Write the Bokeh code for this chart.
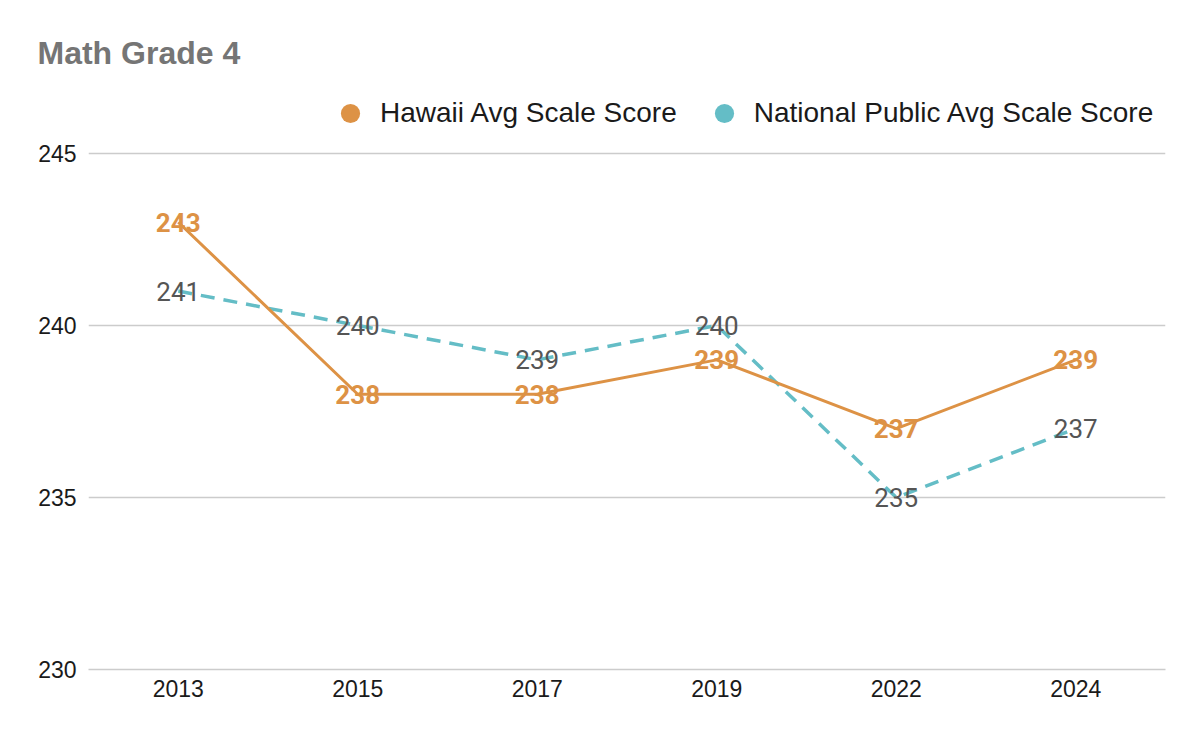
from bokeh.plotting import figure
from bokeh.models import FactorRange, Range1d, FixedTicker, Legend, LegendItem, ColumnDataSource
from bokeh.core.properties import value
from bokeh.embed import file_html
from bokeh.resources import INLINE

years = ["2013", "2015", "2017", "2019", "2022", "2024"]
hawaii = [243, 238, 238, 239, 237, 239]
national = [241, 240, 239, 240, 235, 237]
y_ticks = [230, 235, 240, 245]

title_text = "Math Grade 4"
series_names = ["Hawaii Avg Scale Score", "National Public Avg Scale Score"]

ORANGE = "#DD9245"
TEAL = "#64BDC6"
LABEL_GRAY = "#555555"

p = figure(
    width=1184, height=724,
    x_range=FactorRange(*years, range_padding=0),
    y_range=Range1d(230, 247.12),
    output_backend="svg", toolbar_location=None,
    min_border_left=88, min_border_right=19, min_border_top=80, min_border_bottom=55,
)
p.outline_line_color = None
p.background_fill_color = "white"
p.border_fill_color = "white"

p.title.text = title_text
p.title.align = "left"
p.title.offset = -51
p.title.text_font = "Liberation Sans"
p.title.text_font_size = "32px"
p.title.text_font_style = "bold"
p.title.text_color = "#757575"
p.title.standoff = 19

p.xgrid.grid_line_color = None
p.ygrid.grid_line_color = "#cccccc"
p.ygrid.grid_line_width = 1.5
p.yaxis.ticker = FixedTicker(ticks=y_ticks)

p.yaxis.axis_line_color = None
p.yaxis.major_tick_line_color = None
p.yaxis.minor_tick_line_color = None
p.yaxis.major_tick_out = 0
p.yaxis.major_tick_in = 0
p.yaxis.major_label_text_font = "Liberation Sans"
p.yaxis.major_label_text_font_size = "23px"
p.yaxis.major_label_text_color = "#1a1a1a"
p.yaxis.major_label_standoff = 12

p.xaxis.axis_line_color = "#cccccc"
p.xaxis.axis_line_width = 1.5
p.xaxis.major_tick_line_color = None
p.xaxis.minor_tick_line_color = None
p.xaxis.major_tick_out = 0
p.xaxis.major_tick_in = 0
p.xaxis.major_label_text_font = "Liberation Sans"
p.xaxis.major_label_text_font_size = "23px"
p.xaxis.major_label_text_color = "#1a1a1a"
p.xaxis.major_label_standoff = 10

src = ColumnDataSource(dict(
    x=years, h=hawaii, n=national,
    hl=[str(v) for v in hawaii], nl=[str(v) for v in national],
))

p.line("x", "n", source=src, line_color=TEAL, line_width=3.5, line_dash="14 9")
p.line("x", "h", source=src, line_color=ORANGE, line_width=3)

p.text("x", "n", text="nl", source=src, text_align="center", text_baseline="middle",
       text_font=value("Roboto"), text_font_size="26px", text_color=LABEL_GRAY)
p.text("x", "h", text="hl", source=src, text_align="center", text_baseline="middle",
       text_font=value("Roboto"), text_font_size="26px", text_font_style="bold",
       text_color=ORANGE)

# legend markers: one point each, placed below the visible y range (legend only)
r1 = p.scatter(x=[years[0]], y=[200], marker="circle", fill_color=ORANGE, line_color=None)
r2 = p.scatter(x=[years[0]], y=[200], marker="circle", fill_color=TEAL, line_color=None)

legend = Legend(
    items=[LegendItem(label=series_names[0], renderers=[r1]),
           LegendItem(label=series_names[1], renderers=[r2])],
    orientation="horizontal", location=(238, 532),
    glyph_width=48, glyph_height=48, label_standoff=6, spacing=23,
    padding=0, margin=0, border_line_color=None, background_fill_alpha=0,
    label_text_font="Liberation Sans", label_text_font_size="28px",
    label_text_color="#1a1a1a", label_height=48,
)
p.add_layout(legend, "center")

open("out.html", "w").write(file_html(p, INLINE))
